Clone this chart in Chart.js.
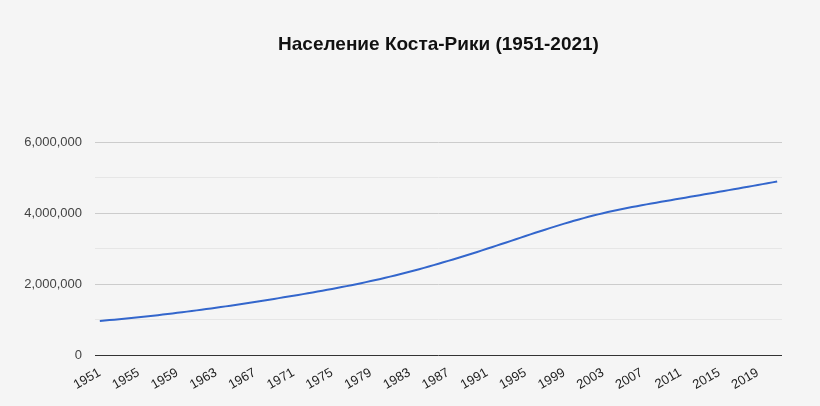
<!DOCTYPE html>
<html>
<head>
<meta charset="utf-8">
<script src="https://cdn.jsdelivr.net/npm/chart.js@4"></script>
<style>
  html, body { margin: 0; padding: 0; background: #f5f5f5; }
  #wrap { width: 820px; height: 406px; }
</style>
</head>
<body>
<div id="wrap"><canvas id="pop-chart" width="820" height="406"></canvas></div>
<script>
// Population of Costa Rica
const chartTitle = 'Население Коста-Рики (1951-2021)';

const years = [];
for (let y = 1951; y <= 2021; y++) years.push(y);

const population = [
    958000, 983000, 1009000, 1036000, 1064000, 1093000, 1123000, 1155000, 1188000, 1222000,
    1257000, 1293000, 1331000, 1370000, 1410000, 1451000, 1493000, 1536000, 1580000, 1624000,
    1669000, 1715000, 1762000, 1811000, 1861000, 1913000, 1967000, 2023000, 2082000, 2143000,
    2207000, 2274000, 2344000, 2417000, 2493000, 2571000, 2651000, 2733000, 2817000, 2903000,
    2991000, 3080000, 3170000, 3261000, 3352000, 3442000, 3530000, 3616000, 3700000, 3780000,
    3856000, 3928000, 3995000, 4057000, 4114000, 4167000, 4218000, 4267000, 4315000, 4362000,
    4409000, 4456000, 4503000, 4550000, 4597000, 4644000, 4692000, 4740000, 4789000, 4838000,
    4888000
];

const xTicks = [1951, 1955, 1959, 1963, 1967, 1971, 1975, 1979, 1983, 1987,
                1991, 1995, 1999, 2003, 2007, 2011, 2015, 2019];

const bgPlugin = {
    id: 'bg',
    beforeDraw(chart) {
        const c = chart.ctx;
        c.save();
        c.fillStyle = '#f5f5f5';
        c.fillRect(0, 0, chart.width, chart.height);
        c.restore();
    },
    afterDraw(chart) {
        const c = chart.ctx;
        const a = chart.chartArea;
        c.save();
        c.fillStyle = '#111';
        c.font = 'bold 19px "Liberation Sans", Arial, sans-serif';
        c.textAlign = 'center';
        c.textBaseline = 'middle';
        c.fillText(chartTitle, (a.left + a.right) / 2, 45);
        c.restore();
    }
};

new Chart(document.getElementById('pop-chart').getContext('2d'), {
    type: 'line',
    data: {
        datasets: [{
            label: 'Население',
            data: years.map((y, i) => ({ x: y, y: population[i] })),
            borderColor: '#3366cc',
            borderWidth: 2,
            pointRadius: 0,
            tension: 0.3,
            fill: false
        }]
    },
    options: {
        responsive: false,
        animation: false,
        layout: { padding: { left: 0, right: 38, top: 142, bottom: 0 } },
        plugins: {
            legend: { display: false },
            tooltip: { enabled: false },
            title: { display: false }
        },
        scales: {
            x: {
                type: 'linear',
                min: 1950.5,
                max: 2021.5,
                afterBuildTicks(scale) { scale.ticks = xTicks.map(v => ({ value: v })); },
                afterFit(scale) { scale.height = 51; },
                grid: { display: false },
                border: { display: false },
                ticks: {
                    autoSkip: false,
                    minRotation: 30,
                    maxRotation: 30,
                    color: '#222',
                    padding: 2,
                    font: { family: 'Liberation Sans, Arial, sans-serif', size: 13 },
                    callback: v => String(v)
                }
            },
            y: {
                min: 0,
                max: 6000000,
                afterFit(scale) { scale.width = 95; },
                border: { display: false },
                grid: {
                    drawTicks: false,
                    lineWidth: 1,
                    color: ctx => {
                        const v = ctx.tick.value;
                        if (v === 0) return '#333';
                        return (v / 1000000) % 2 === 0 ? '#cccccc' : '#e6e6e6';
                    }
                },
                ticks: {
                    stepSize: 1000000,
                    padding: 13,
                    color: '#444',
                    font: { family: 'Liberation Sans, Arial, sans-serif', size: 13 },
                    callback: v => (v / 1000000) % 2 === 0 ? v.toLocaleString('en-US') : ''
                }
            }
        }
    },
    plugins: [bgPlugin]
});
</script>
</body>
</html>
